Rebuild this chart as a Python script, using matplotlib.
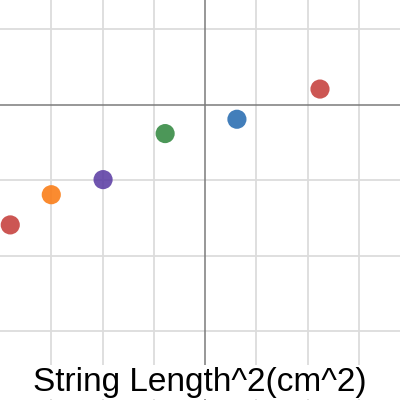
import matplotlib
matplotlib.use("Agg")
import matplotlib.pyplot as plt

# data in grid units (one gridline per unit)
x_vals = [-3.80, -3.00, -1.99, -0.78, 0.62, 2.24]
y_vals = [-1.59, -1.19, -0.99, -0.38, -0.19, 0.21]
colors = ["#c74440", "#fa7e19", "#6042a6", "#388c46", "#2d70b3", "#c74440"]
xlabel = "String Length^2(cm^2)"

fig = plt.figure(figsize=(4, 4), dpi=100)
ax = fig.add_axes([0, 0, 1, 1])
ax.set_xlim(-4.0, 3.8)
ax.set_ylim(-3.91, 1.39)

for gx in range(-3, 4):
    if gx != 0:
        ax.axvline(gx, color="#dcdcdc", lw=1.3, zorder=0)
for gy in range(-3, 2):
    if gy != 0:
        ax.axhline(gy, color="#dcdcdc", lw=1.3, zorder=0)
ax.axvline(0, color="#7a7a7a", lw=1.1, zorder=1)
ax.axhline(0, color="#7a7a7a", lw=1.1, zorder=1)

ax.scatter(x_vals, y_vals, c=colors, s=190, edgecolors="none", alpha=0.9, zorder=3)

ax.text(0.5, 0.045, xlabel, transform=ax.transAxes, ha="center", va="center",
        fontsize=24, family="Liberation Sans", color="black",
        bbox=dict(facecolor="white", edgecolor="none", pad=1))
ax.axis("off")

fig.savefig("out.png", dpi=100)
